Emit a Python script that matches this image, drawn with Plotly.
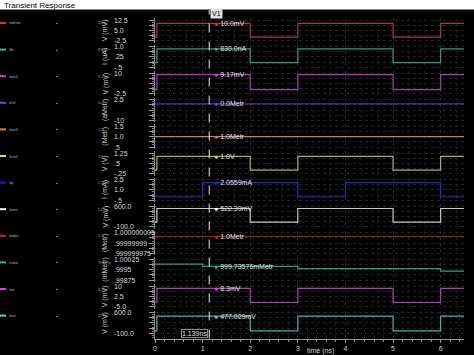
import plotly.graph_objects as go

W, H = 474, 355
ML, MR, MT, MB = 155, 10, 10, 16
PW = W - ML - MR
PH = H - MT - MB


def px_x(px):
    return (px - ML) / PW


def px_y(py):
    return (H - MB - py) / PH


# ---------------- data ----------------
t_end = 6.49
time_sq = [0, 0.04, 2.0, 3.0, 5.0, 6.0, t_end]
time_cur = [0, 1.0, 3.0, 4.0, 6.0, t_end]
time_stair = [0, 1.0, 3.0, 6.0, t_end]
time_flat = [0, t_end]

v_drive = [0, 10.0, 0, 10.0, 0, 10.0, 10.0]          # mV
i_bias = [-0.17, 0.83, -0.17, 0.83, -0.17, 0.83, 0.83]  # uA
v_out1 = [0, 9.17, 0, 9.17, 0, 9.17, 9.17]          # mV
m_ctrl = [0.0, 0.0]                                  # aMetr
m_out2 = [1.0, 1.0]                                  # Metr
v_ctrl = [0, 1.0, 0, 1.0, 0, 1.0, 1.0]              # V
i_sup = [0, 2.0559, 0, 2.0559, 0, 0]                 # mA
v_out = [60, 522.39, 60, 522.39, 60, 522.39, 522.39]  # mV
m_ratio = [1.0, 1.0]                                 # Metr
m_ratio2 = [0.9999, 0.99974, 0.99958, 0.9994, 0.9994]  # Metr
v_out3 = [-2, 8.3, -2, 8.3, -2, 8.3, 8.3]           # mV
v_out4 = [-20, 477.029, -20, 477.029, -20, 477.029, 477.029]  # mV

series_x = [time_sq, time_sq, time_sq, time_flat, time_flat, time_sq,
            time_cur, time_sq, time_flat, time_stair, time_sq, time_sq]
series_y = [v_drive, i_bias, v_out1, m_ctrl, m_out2, v_ctrl,
            i_sup, v_out, m_ratio, m_ratio2, v_out3, v_out4]

axis_titles = ["V (mV)", "I (uA)", "V (mV)", "(aMetr)", "(Metr)", "V (V)",
               "I (mA)", "V (mV)", "(Metr)", "(mMetr)", "V (mV)", "V (mV)"]

tick_top = [12.5, 1.0, 10, 2.5, 1.5, 1.25, 2.5, 600.0, 1.000000005, 1.00025, 10, 600.0]
tick_bot = [-2.5, -0.5, -2.5, -10, 0.5, -0.25, -0.5, -100.0, 0.999999975, 0.99875, -5.0, -100.0]
label_top = ["12.5", "1.0", "10", "2.5", "1.5", "1.25", "2.5", "600.0",
             "1.000000005", "1.00025", "10", "600.0"]
label_mid = ["5.0", ".25", "", "", "1.0", ".5", "1.0", "",
             ".99999999", ".9995", "2.5", ""]
label_bot = ["-2.5", "-.5", "-2.5", "-10", ".5", "-.25", "-.5", "-100.0",
             ".999999975", ".99875", "-5.0", "-100.0"]

cursor_t = 1.139
cursor_vals = [10.0, 0.83, 9.17, 0.0, 1.0, 1.0, 2.0559, 522.39, 1.0, 0.99973576, 8.3, 477.029]
cursor_text = ["10.0mV", "830.0nA", "9.17mV", "0.0Metr", "1.0Metr", "1.0V",
               "2.0559mA", "522.39mV", "1.0Metr", "999.73576mMetr", "8.3mV", "477.029mV"]

names = ["/vdrive", "/ib", "/out1", "/ctrl", "/out2", "/vctrl",
         "/ip", "/vout", "/wdrv", "/ratio", "/vo", "/out"]
legend_vals = ["10m", "830n", "9.17m", "0a", "1.0", "1V",
               "2.06m", "522m", "1.0", "999.7m", "8.3m", "477m"]

line_colors = ["#a83848", "#3a9a7a", "#a040a8", "#5a30b0", "#c08068", "#b0b050",
               "#2828c0", "#c8c8c8", "#b02828", "#30a070", "#b040b0", "#40b4b4"]
dot_colors = ["#e03040", "#30c080", "#d040d0", "#8040e0", "#e08030", "#e0e040",
              "#2020e0", "#ffffff", "#e02020", "#20c070", "#e040e0", "#40e0e0"]

# ---------------- figure ----------------
fig = go.Figure()
layout = dict(
    width=W, height=H,
    margin=dict(l=ML, r=MR, t=MT, b=MB, pad=0, autoexpand=False),
    paper_bgcolor="black", plot_bgcolor="black",
    showlegend=False,
    font=dict(family="Liberation Sans, Arial, sans-serif", size=7, color="#cccccc"),
)
annotations = []
shapes = []

n = len(series_y)
for i in range(n):
    k = "" if i == 0 else str(i + 1)
    T = 20 + 26.6 * i
    B = T + 20.6
    dom_top = T - 2
    dom_bot = 338.5 if i == n - 1 else B + 2
    u = (tick_top[i] - tick_bot[i]) / (B - T)
    rng = [tick_bot[i] - (dom_bot - B) * u, tick_top[i] + (T - dom_top) * u]
    span = tick_top[i] - tick_bot[i]
    gvals = [tick_bot[i] + span * f for f in (0, 0.25, 0.5, 0.75, 1.0)]

    fig.add_trace(go.Scatter(
        x=series_x[i], y=series_y[i], mode="lines", line_shape="hv",
        line=dict(color=line_colors[i], width=1.2),
        xaxis="x" + k, yaxis="y" + k, hoverinfo="skip"))

    last = (i == n - 1)
    xa = dict(
        anchor="y" + k, domain=[0, 1], range=[0, t_end], automargin=False,
        showgrid=True, gridcolor="#2c2c2c", griddash="dot", gridwidth=1,
        dtick=1, tick0=0, zeroline=False,
        minor=dict(dtick=(0.2 if last else 1 / 3), showgrid=True,
                   gridcolor="#1a1a1a", griddash="dot",
                   ticks=("outside" if last else ""), ticklen=2, tickcolor="#888"),
        showticklabels=last,
        ticks="outside" if last else "", ticklen=3, tickcolor="#999",
        showline=last, linecolor="#999", linewidth=1,
        tickfont=dict(size=7, color="#d0d0d0"),
    )
    if i > 0:
        xa["matches"] = "x"
    layout["xaxis" + k] = xa
    layout["yaxis" + k] = dict(
        anchor="x" + k, domain=[px_y(dom_bot), px_y(dom_top)], range=rng,
        automargin=False,
        tickmode="array", tickvals=gvals, showticklabels=False,
        ticks="outside", ticklen=5, tickcolor="#9a9a9a",
        minor=dict(dtick=span / 10, tick0=tick_bot[i], ticks="outside",
                   ticklen=2, tickcolor="#777", showgrid=False),
        showgrid=True, gridcolor="#232323", griddash="dot",
        zeroline=False, showline=True, linecolor="#8a8a8a", linewidth=1,
    )

    yref = "y" + k
    # tick labels (left aligned)
    for val, lab in ((tick_top[i], label_top[i]),
                     ((tick_top[i] + tick_bot[i]) / 2, label_mid[i]),
                     (tick_bot[i], label_bot[i])):
        if lab:
            annotations.append(dict(
                xref="paper", yref=yref, x=px_x(112), y=val, text=lab,
                xanchor="left", yanchor="middle", showarrow=False,
                font=dict(size=7, color="#d8d8d8")))
    # axis title
    annotations.append(dict(
        xref="paper", yref="paper", x=px_x(105), y=px_y((T + B) / 2),
        text=axis_titles[i], textangle=-90, xanchor="center", yanchor="middle",
        showarrow=False, font=dict(size=7, color="#c8c8c8")))
    # cursor value label
    annotations.append(dict(
        xref="x", yref=yref, x=cursor_t, y=cursor_vals[i],
        text="<span style='color:%s'>●</span> %s" % (dot_colors[i], cursor_text[i]),
        xanchor="left", yanchor="middle", xshift=3, showarrow=False,
        font=dict(size=7, color="#e0e0e0")))
    # left legend column
    Ly = 23 + 26.6 * i
    shapes.append(dict(type="line", xref="paper", yref="paper",
                       x0=px_x(0), x1=px_x(6), y0=px_y(Ly), y1=px_y(Ly),
                       line=dict(color=dot_colors[i], width=2)))
    annotations.append(dict(
        xref="paper", yref="paper", x=px_x(6.5), y=px_y(Ly), text=names[i],
        xanchor="left", yanchor="middle", showarrow=False,
        font=dict(size=4, color="#bbbbbb")))
    annotations.append(dict(
        xref="paper", yref="paper", x=px_x(57), y=px_y(Ly), text="▪",
        xanchor="center", yanchor="middle", showarrow=False,
        font=dict(size=5, color="#aaaaaa")))
    annotations.append(dict(
        xref="paper", yref="paper", x=px_x(96), y=px_y(Ly), text=legend_vals[i],
        xanchor="left", yanchor="middle", showarrow=False,
        font=dict(size=4, color="#999999")))

# cursor line
shapes.append(dict(type="line", xref="x", yref="paper", x0=cursor_t, x1=cursor_t,
                   y0=px_y(338.5), y1=px_y(10),
                   line=dict(color="#e8e8e8", width=1, dash="dash")))
# title bar
shapes.append(dict(type="rect", xref="paper", yref="paper",
                   x0=px_x(0), x1=px_x(W), y0=px_y(9.5), y1=px_y(0),
                   fillcolor="white", line=dict(width=0), layer="above"))
annotations.append(dict(
    xref="paper", yref="paper", x=px_x(2), y=px_y(5), text="Transient Response",
    xanchor="left", yanchor="middle", showarrow=False,
    font=dict(size=8, color="black")))
# cursor labels
annotations.append(dict(
    xref="x", yref="paper", x=cursor_t, y=px_y(13.5), text="V1",
    xanchor="left", yanchor="middle", xshift=1, showarrow=False,
    bgcolor="#e0e0e0", borderpad=1, font=dict(size=7, color="black")))
annotations.append(dict(
    xref="x", yref="paper", x=cursor_t, y=px_y(333.5), text="1.139ns",
    xanchor="right", yanchor="middle", xshift=-1, showarrow=False,
    bgcolor="black", bordercolor="#888", borderwidth=1, borderpad=0,
    font=dict(size=7, color="#e0e0e0")))
# x axis title
annotations.append(dict(
    xref="paper", yref="paper", x=px_x(320), y=px_y(351), text="time (ns)",
    xanchor="center", yanchor="middle", showarrow=False,
    font=dict(size=7, color="#d0d0d0")))

layout["annotations"] = annotations
layout["shapes"] = shapes
fig.update_layout(**layout)
fig.write_html(
    "out.html",
    config={"displayModeBar": False},
    post_script="document.body.style.margin='0';document.body.style.background='black';",
)
